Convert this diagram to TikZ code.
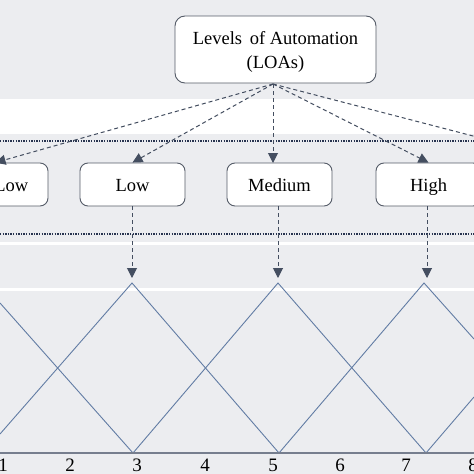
\documentclass[tikz,border=0pt]{standalone}
\usepackage{fontspec}
\setmainfont{Liberation Serif}
\usetikzlibrary{arrows.meta}
\definecolor{bandgray}{RGB}{236,237,240}
\definecolor{boxline}{RGB}{85,92,104}
\definecolor{arrowc}{RGB}{68,78,96}
\definecolor{dotc}{RGB}{40,52,80}
\definecolor{mfc}{RGB}{98,124,164}
\definecolor{axisc}{RGB}{118,126,142}
\tikzset{
  lvlbox/.style={draw=boxline, fill=white, rounded corners=8pt, line width=0.9pt,
    minimum width=105pt, minimum height=43pt, inner sep=0pt},
  txt/.style={font=\fontsize{18.5}{24}\selectfont, inner sep=0pt},
  lvltxt/.style={txt, text height=17pt, text depth=4pt},
  dasharrow/.style={draw=arrowc, line width=1pt, dash pattern=on 4pt off 3pt,
    -{Triangle[length=10pt,width=10pt,fill=arrowc]}},
  dotline/.style={draw=dotc, line width=1.4pt, dash pattern=on 1.4pt off 1.2pt},
  mfline/.style={draw=mfc, line width=0.9pt},
  axisline/.style={draw=axisc, line width=1.3pt},
  ticklabel/.style={font=\fontsize{19}{22}\selectfont, inner sep=0pt}
}
\begin{document}
\begin{tikzpicture}[x=1pt,y=-1pt]
\useasboundingbox (0,0) rectangle (474,474);
\clip (0,0) rectangle (474,474);
% background bands
\fill[white] (0,0) rectangle (474,474);
\fill[bandgray] (0,0) rectangle (474,99);
\fill[bandgray] (0,134) rectangle (474,242);
\fill[bandgray] (0,244.5) rectangle (474,288);
\fill[bandgray] (0,291) rectangle (474,474);
% dotted lines
\coordinate (d1a) at (0,141);  \coordinate (d1b) at (474,141);
\coordinate (d2a) at (0,234);  \coordinate (d2b) at (474,234);
\draw[dotline] (d1a) -- (d1b);
\draw[dotline] (d2a) -- (d2b);
% top box
\node[lvlbox, minimum width=201pt, minimum height=67pt, align=center, txt,
      rounded corners=10pt] (top) at (275.5,49.5)
  {\rule{0pt}{17pt}Levels\, of Automation\\(LOAs)};
% level boxes
\node[lvlbox] (vlow) at (-4.5,184.5) {};
\node[lvltxt, anchor=east] (vlowt) at (28.5,184.5) {Low};
\node[lvlbox, lvltxt] (low) at (132.5,184.5) {Low};
\node[lvlbox, lvltxt] (med) at (279.5,184.5) {Medium};
\node[lvlbox, lvltxt] (high) at (428.5,184.5) {High};
\coordinate (vhigh) at (577,163);
% upper arrows
\coordinate (src) at (273,84);
\coordinate (medtop) at (273,163);
\draw[dasharrow] (src) -- (vlow.north);
\draw[dasharrow] (src) -- (low.north);
\draw[dasharrow] (src) -- (medtop);
\draw[dasharrow] (src) -- (high.north);
\draw[dasharrow] (src) -- (vhigh);
% lower arrows
\coordinate (pl) at (132,278);
\coordinate (pm) at (278,278);
\coordinate (ph) at (427,278);
\draw[dasharrow] (low.south -| pl) -- (pl);
\draw[dasharrow] (med.south -| pm) -- (pm);
\draw[dasharrow] (high.south -| ph) -- (ph);
% membership functions
\coordinate (t1) at (132,283);
\coordinate (t2) at (278,283);
\coordinate (t3) at (424,283);
\coordinate (b1) at (133,453);
\coordinate (b2) at (279,453);
\coordinate (b3) at (426,453);
\coordinate (l1) at (0,303);
\coordinate (l2) at (0,434);
\coordinate (r1) at (474,339);
\coordinate (r2) at (474,397);
\draw[mfline] (l1) -- (b1) -- (t2) -- (b3) -- (r2);
\draw[mfline] (l2) -- (t1) -- (b2) -- (t3) -- (r1);
% axis
\coordinate (ax1) at (0,453);
\coordinate (ax2) at (474,453);
\draw[axisline] (ax1) -- (ax2);
\node[ticklabel] (n1) at (3,465.5) {1};
\node[ticklabel] (n2) at (70,465.5) {2};
\node[ticklabel] (n3) at (137,465.5) {3};
\node[ticklabel] (n4) at (205,465.5) {4};
\node[ticklabel] (n5) at (273,465.5) {5};
\node[ticklabel] (n6) at (340,465.5) {6};
\node[ticklabel] (n7) at (406,465.5) {7};
\node[ticklabel] (n8) at (473,465.5) {8};
\end{tikzpicture}
\end{document}
